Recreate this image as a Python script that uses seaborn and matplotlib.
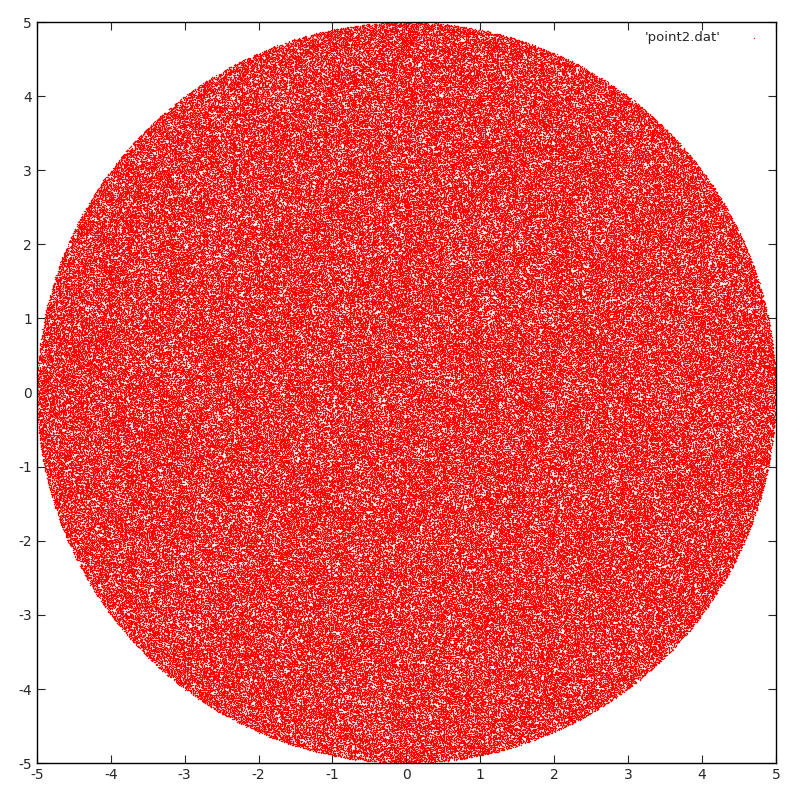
import numpy as np
import pandas as pd
import seaborn as sns
import matplotlib
matplotlib.use("Agg")
import matplotlib.pyplot as plt

# the reference is a cloud of uniform samples in a disk; individual points
# cannot be read off the picture, so a seeded sample of the same disk is used
radius = 5.0
n_points = 400000
series_name = "'point2.dat'"
x_ticks = [-5, -4, -3, -2, -1, 0, 1, 2, 3, 4, 5]
y_ticks = [-5, -4, -3, -2, -1, 0, 1, 2, 3, 4, 5]

rng = np.random.default_rng(2)
r = radius * np.sqrt(rng.random(n_points))
theta = 2 * np.pi * rng.random(n_points)
df = pd.DataFrame({"x": r * np.cos(theta), "y": r * np.sin(theta)})

sns.set_style("ticks")
plt.rcParams["font.family"] = ["DejaVu Sans"]
plt.rcParams["axes.unicode_minus"] = False

fig = plt.figure(figsize=(8, 8), dpi=100)
ax = fig.add_axes([0.046, 0.046, 0.924, 0.9265])
sns.scatterplot(data=df, x="x", y="y", marker="o", color="red", s=1.0,
                linewidth=0, ax=ax, label=series_name)
for coll in ax.collections:
    coll.set_snap(False)
    coll.set_antialiased(True)

ax.set_xlim(-5, 5)
ax.set_ylim(-5, 5)
ax.set_xticks(x_ticks)
ax.set_yticks(y_ticks)
ax.set_xlabel("")
ax.set_ylabel("")
ax.tick_params(direction="in", top=True, right=True, length=6, labelsize=10)
for side in ax.spines.values():
    side.set_linewidth(1)
    side.set_color("black")

leg = ax.legend(loc="upper right", frameon=False, markerfirst=False,
                fontsize=9.5, handletextpad=1.5, borderaxespad=0.3,
                markerscale=1)

plt.savefig("out.png", dpi=100)
